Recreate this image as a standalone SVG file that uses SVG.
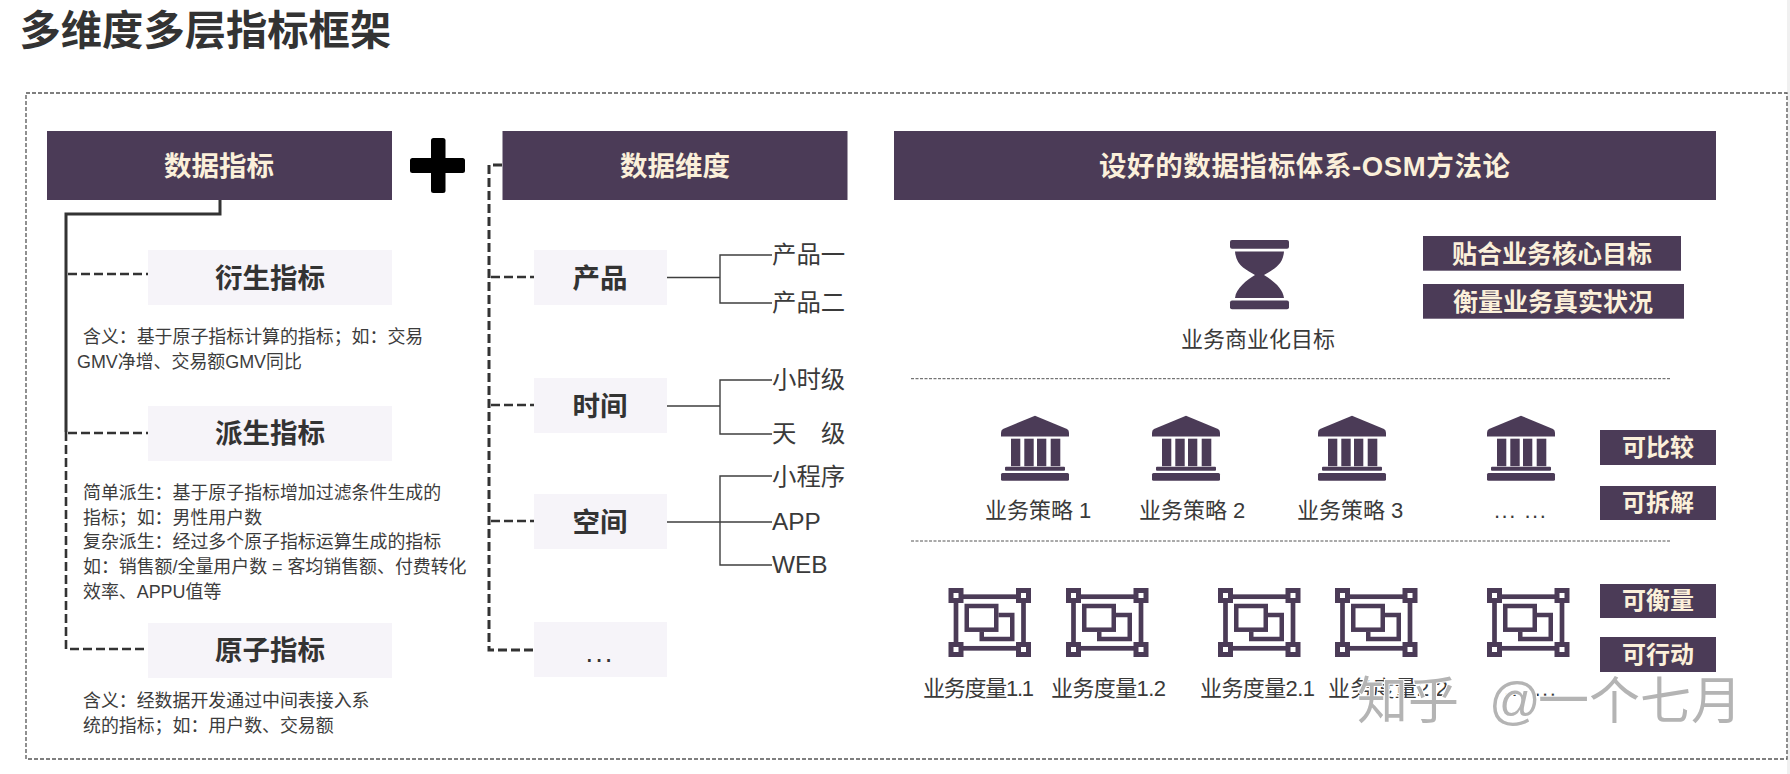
<svg xmlns="http://www.w3.org/2000/svg" xmlns:xlink="http://www.w3.org/1999/xlink" width="1790" height="774" viewBox="0 0 1790 774">
<style>
text{font-family:"Liberation Sans","Noto Sans CJK SC",sans-serif;fill:#333}
.title{font-size:41.3px;font-weight:700}
.hd{fill:#4b3b57}
.ht{font-size:27.5px;font-weight:700;fill:#fbf0da;text-anchor:middle}
.sub{fill:#f6f4f9}
.st{font-size:27.5px;font-weight:700;text-anchor:middle}
.body{font-size:17.92px;fill:#3c3c3c}
.leaf{font-size:24.4px;fill:#3a3a3a}
.lab{font-size:22px;fill:#3a3a3a}
.tg{font-size:25px;font-weight:700;fill:#fbf0da;text-anchor:middle}
.tg3{font-size:24px;font-weight:700;fill:#fbf0da;text-anchor:middle}
.ic{fill:#4b3b57}
.thin{fill:none;stroke:#3f3f3f;stroke-width:1.4}
.dash{fill:none;stroke:#333;stroke-width:2.6;stroke-dasharray:9 4}
.dash3{fill:none;stroke:#333;stroke-width:3;stroke-dasharray:9 4}
.sep{fill:none;stroke:#555;stroke-width:1;stroke-dasharray:3 1.5}
.wm{font-size:51px;font-weight:400;fill:#b4b4b4;stroke:#fff;stroke-width:2;paint-order:stroke}
</style>
<defs>
<g id="bank">
<path class="ic" d="M34 0.7L66 14Q68 15 68 18V21.5H0V18Q0 15 2 14Z"/>
<rect class="ic" x="10" y="23.7" width="9.3" height="27.5"/>
<rect class="ic" x="23.3" y="23.7" width="9.4" height="27.5"/>
<rect class="ic" x="36" y="23.7" width="9.3" height="27.5"/>
<rect class="ic" x="49.7" y="23.7" width="9.6" height="27.5"/>
<rect class="ic" x="4" y="51.7" width="60" height="4" rx="1"/>
<rect class="ic" x="0" y="58" width="68" height="7.7" rx="1.5"/>
</g>
<g id="corner"><rect class="ic" width="15" height="15"/><rect x="5" y="5" width="5" height="5" fill="#fff"/></g>
<g id="measure">
<rect x="7.5" y="8.7" width="67.5" height="51.6" fill="none" stroke="#4b3b57" stroke-width="4.7"/>
<use xlink:href="#corner"/>
<use xlink:href="#corner" x="67.5"/>
<use xlink:href="#corner" y="54"/>
<use xlink:href="#corner" x="67.5" y="54"/>
<rect x="18.25" y="18" width="29.5" height="23.7" fill="none" stroke="#4b3b57" stroke-width="4.5"/>
<path d="M50 27H63.75V51H33.25V44" fill="none" stroke="#4b3b57" stroke-width="4.5"/>
</g>
</defs>
<rect width="1790" height="774" fill="#fff"/>
<rect x="1787" y="0" width="3" height="774" fill="#f0f0f0"/>
<text class="title" x="19.5" y="45">多维度多层指标框架</text>
<rect x="26" y="93" width="1761" height="666" fill="none" stroke="#555" stroke-width="1.3" stroke-dasharray="4 2"/>

<g id="connectors">
<path d="M220 200V214H66V432" fill="none" stroke="#333" stroke-width="3"/>
<path class="dash" d="M66 432V649H148"/>
<path class="dash" d="M68 274H149"/>
<path class="dash" d="M68 433H149"/>
<path class="dash3" d="M502 165H489V650H534"/>
<path class="dash" d="M491 277H534"/>
<path class="dash" d="M491 405H534"/>
<path class="dash" d="M491 521H534"/>
<path class="thin" d="M667 277.5H720M772 255H720V303H772"/>
<path class="thin" d="M667 406H720M772 380H720V434H772"/>
<path class="thin" d="M667 522H772M772 476H720V565H772"/>
</g>

<g id="n-metrics"><rect class="hd" x="47" y="131" width="345" height="69"/><text class="ht" x="219" y="176">数据指标</text></g>
<g id="n-plus"><rect x="410" y="158" width="55" height="15" rx="2.5"/><rect x="431" y="138" width="14.5" height="55" rx="2.5"/></g>
<g id="n-dims"><rect class="hd" x="502.5" y="131" width="345" height="69"/><text class="ht" x="675" y="176">数据维度</text></g>
<g id="n-osm"><rect class="hd" x="894" y="131" width="822" height="69"/><text class="ht" x="1304.5" y="176" textLength="411">设好的数据指标体系-OSM方法论</text></g>

<g id="n-derived1"><rect class="sub" x="148" y="250" width="244" height="55"/><text class="st" x="270" y="288">衍生指标</text></g>
<g id="t-derived1"><text class="body" x="83" y="343">含义：基于原子指标计算的指标；如：交易</text><text class="body" x="77" y="368">GMV净增、交易额GMV同比</text></g>
<g id="n-derived2"><rect class="sub" x="148" y="406" width="244" height="55"/><text class="st" x="270" y="443">派生指标</text></g>
<g id="t-derived2">
<text class="body" x="83" y="499">简单派生：基于原子指标增加过滤条件生成的</text>
<text class="body" x="83" y="524">指标；如：男性用户数</text>
<text class="body" x="83" y="548">复杂派生：经过多个原子指标运算生成的指标</text>
<text class="body" x="83" y="573">如：销售额/全量用户数 = 客均销售额、付费转化</text>
<text class="body" x="83" y="598">效率、APPU值等</text>
</g>
<g id="n-atomic"><rect class="sub" x="148" y="623" width="244" height="55"/><text class="st" x="270" y="660">原子指标</text></g>
<g id="t-atomic"><text class="body" x="83" y="707">含义：经数据开发通过中间表接入系</text><text class="body" x="83" y="732">统的指标；如：用户数、交易额</text></g>

<g id="n-product"><rect class="sub" x="534" y="250" width="133" height="55"/><text class="st" x="600" y="288">产品</text></g>
<g id="n-time"><rect class="sub" x="534" y="378" width="133" height="55"/><text class="st" x="600" y="416">时间</text></g>
<g id="n-space"><rect class="sub" x="534" y="494" width="133" height="55"/><text class="st" x="600" y="532">空间</text></g>
<g id="n-more"><rect class="sub" x="534" y="622" width="133" height="55"/><text class="st" x="600" y="662" style="font-weight:400;letter-spacing:2px">...</text></g>
<g id="leaves">
<text class="leaf" x="772" y="262.5">产品一</text>
<text class="leaf" x="772" y="311">产品二</text>
<text class="leaf" x="772" y="387.5">小时级</text>
<text class="leaf" x="772" y="442">天</text><text class="leaf" x="821" y="442">级</text>
<text class="leaf" x="772" y="485">小程序</text>
<text class="leaf" x="772" y="530">APP</text>
<text class="leaf" x="772" y="573">WEB</text>
</g>

<g id="n-goal">
<rect class="ic" x="1230" y="240" width="59" height="8.7" rx="2"/>
<path class="ic" d="M1235 251.5H1284C1283 266 1272 270 1264 275C1272 280 1283 288 1284 298H1235C1236 288 1247 280 1255 275C1247 270 1236 266 1235 251.5Z"/>
<rect class="ic" x="1230" y="300.5" width="59" height="8.7" rx="2"/>
<text class="lab" x="1181" y="347">业务商业化目标</text>
</g>
<g id="n-tag1"><rect class="hd" x="1423" y="236" width="258" height="34.7"/><text class="tg" x="1552" y="263">贴合业务核心目标</text></g>
<g id="n-tag2"><rect class="hd" x="1423" y="284" width="261" height="34.7"/><text class="tg" x="1553" y="311">衡量业务真实状况</text></g>
<path class="sep" d="M911 378.7H1670"/>
<path class="sep" d="M911 541H1670"/>

<g id="n-strategy1"><use xlink:href="#bank" x="1001" y="415"/><text class="lab" x="985" y="518">业务策略 1</text></g>
<g id="n-strategy2"><use xlink:href="#bank" x="1152" y="415"/><text class="lab" x="1139" y="518">业务策略 2</text></g>
<g id="n-strategy3"><use xlink:href="#bank" x="1318" y="415"/><text class="lab" x="1297" y="518">业务策略 3</text></g>
<g id="n-strategy4"><use xlink:href="#bank" x="1487" y="415"/><text class="lab" x="1494" y="518" style="letter-spacing:1.5px">... ...</text></g>
<g id="n-tag3"><rect class="hd" x="1600" y="430" width="116" height="35"/><text class="tg3" x="1658" y="456">可比较</text></g>
<g id="n-tag4"><rect class="hd" x="1600" y="486" width="116" height="34"/><text class="tg3" x="1658" y="511">可拆解</text></g>

<g id="n-measure1"><use xlink:href="#measure" x="948.5" y="588"/><text class="lab" x="923" y="696" textLength="111">业务度量1.1</text></g>
<g id="n-measure2"><use xlink:href="#measure" x="1066" y="588"/><text class="lab" x="1051" y="696" textLength="115">业务度量1.2</text></g>
<g id="n-measure3"><use xlink:href="#measure" x="1218" y="588"/><text class="lab" x="1200" y="696" textLength="115">业务度量2.1</text></g>
<g id="n-measure4"><use xlink:href="#measure" x="1335" y="588"/><text class="lab" x="1328" y="696" textLength="120">业务度量2.2</text></g>
<g id="n-measure5"><use xlink:href="#measure" x="1487" y="588"/><text class="lab" x="1504" y="696" style="letter-spacing:1.5px">... ...</text></g>
<g id="n-tag5"><rect class="hd" x="1600" y="584" width="116" height="34"/><text class="tg3" x="1658" y="609">可衡量</text></g>
<g id="n-tag6"><rect class="hd" x="1600" y="637" width="116" height="35"/><text class="tg3" x="1658" y="663">可行动</text></g>

<text class="wm" y="719"><tspan x="1357">知乎</tspan><tspan x="1489">@</tspan><tspan x="1538">一个七月</tspan></text>
</svg>
